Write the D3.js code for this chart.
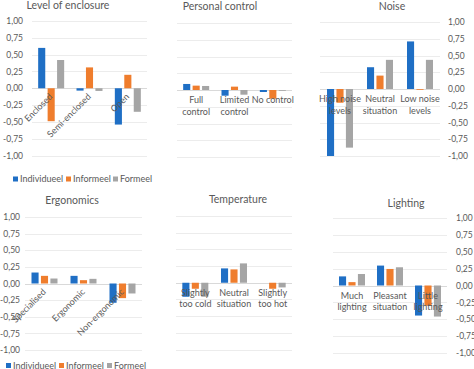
<!DOCTYPE html>
<html>
<head>
<meta charset="utf-8">
<script src="https://cdn.jsdelivr.net/npm/d3@7"></script>
<style>
  body { margin: 0; background: #fff; }
  svg { display: block; font-family: Lato, "Open Sans", sans-serif; }
</style>
</head>
<body>
<div id="chart"></div>
<script>
// series (legend)
const seriesNames = ["Individueel", "Informeel", "Formeel"];
const seriesColors = ["#1f6fc5", "#ef7d2d", "#a5a5a5"];

// y ticks shared by all panels
const yTicks = [1, 0.75, 0.5, 0.25, 0, -0.25, -0.5, -0.75, -1];

// values per category: [Individueel, Informeel, Formeel]
const enclosureCats = ["Enclosed", "Semi-enclosed", "Open"];
const enclosureVals = [[0.60, -0.49, 0.42], [-0.035, 0.31, -0.04], [-0.54, 0.20, -0.35]];

const controlCats = ["Full\ncontrol", "Limited\ncontrol", "No control"];
const controlVals = [[0.09, 0.065, 0.06], [-0.085, 0.05, -0.07], [-0.03, -0.13, -0.005]];

const noiseCats = ["High noise\nlevels", "Neutral\nsituation", "Low noise\nlevels"];
const noiseVals = [[-1.00, -0.205, -0.875], [0.325, 0.20, 0.435], [0.71, -0.01, 0.435]];

const ergoCats = ["Specialised", "Ergonomic", "Non-ergonomic"];
const ergoVals = [[0.165, 0.115, 0.075], [0.115, 0.05, 0.07], [-0.29, -0.22, -0.15]];

const tempCats = ["Slightly\ntoo cold", "Neutral\nsituation", "Slightly\ntoo hot"];
const tempVals = [[-0.21, -0.09, -0.21], [0.215, 0.20, 0.29], [0, -0.09, -0.07]];

const lightCats = ["Much\nlighting", "Pleasant\nsituation", "Little\nlighting"];
const lightVals = [[0.135, 0.05, 0.17], [0.295, 0.245, 0.27], [-0.445, -0.30, -0.46]];

const W = 474, H = 369;
const textColor = "#595959";
const locale = d3.formatLocale({decimal: ",", thousands: ".", grouping: [3], currency: ["", ""], minus: "-"});
const fmt = locale.format(".2f");

const svg = d3.select("#chart").append("svg")
	.attr("width", W)
	.attr("height", H);

const panels = [
	{title: "Level of enclosure", cats: enclosureCats, vals: enclosureVals,
		x0: 32, x1: 147, y0: 21, y1: 155.5, axis: "left", axisX: 23, rotate: true,
		titleX: 68, titleY: 8.5, legend: {y: 179, xs: [13, 66, 113]}},
	{title: "Personal control", cats: controlCats, vals: controlVals,
		x0: 177, x1: 292, y0: 23, y1: 157, axis: null, rotate: false,
		titleX: 220, titleY: 9.5},
	{title: "Noise", cats: noiseCats, vals: noiseVals,
		x0: 320, x1: 440, y0: 22, y1: 156, axis: "right", axisX: 448, rotate: false,
		titleX: 392, titleY: 9.5},
	{title: "Ergonomics", cats: ergoCats, vals: ergoVals,
		x0: 25, x1: 142, y0: 217, y1: 350, axis: "left", axisX: 20, rotate: true,
		titleX: 72, titleY: 203.5, legend: {y: 365.5, xs: [6, 59, 107]}},
	{title: "Temperature", cats: tempCats, vals: tempVals,
		x0: 176, x1: 292, y0: 216, y1: 349.5, axis: null, rotate: false,
		titleX: 238, titleY: 203},
	{title: "Lighting", cats: lightCats, vals: lightVals,
		x0: 333, x1: 447, y0: 218, y1: 353, axis: "right", axisX: 456, rotate: false,
		titleX: 406, titleY: 207}
];

panels.forEach(drawPanel);

function drawPanel(p) {
	const g = svg.append("g");
	const y = d3.scaleLinear().domain([-1, 1]).range([p.y1, p.y0]);
	const x = d3.scaleBand().domain(p.cats).range([p.x0, p.x1]);
	const inner = d3.scaleBand().domain(seriesNames).range([-13, 13]).paddingInner(0.25);

	// gridlines
	g.append("g").selectAll("line")
		.data(yTicks)
		.join("line")
		.attr("x1", p.x0).attr("x2", p.x1)
		.attr("y1", d => Math.round(y(d)) + 0.5)
		.attr("y2", d => Math.round(y(d)) + 0.5)
		.attr("stroke", d => d === 0 ? "#d9d9d9" : "#ececec")
		.attr("stroke-width", 1);

	// bars
	g.append("g").selectAll("g")
		.data(p.cats.map((c, i) => ({cat: c, vals: p.vals[i]})))
		.join("g")
		.attr("transform", d => `translate(${x(d.cat) + x.bandwidth() / 2},0)`)
		.selectAll("rect")
		.data(d => d.vals.map((v, j) => ({v, s: seriesNames[j], c: seriesColors[j]})))
		.join("rect")
		.attr("x", d => inner(d.s))
		.attr("width", inner.bandwidth())
		.attr("y", d => y(Math.max(0, d.v)))
		.attr("height", d => Math.max(Math.abs(y(d.v) - y(0)), d.v === 0 ? 0 : 0.8))
		.attr("fill", d => d.c);

	// y axis labels
	if (p.axis) {
		const axis = (p.axis === "left" ? d3.axisLeft(y) : d3.axisRight(y))
			.tickValues(yTicks)
			.tickFormat(fmt)
			.tickSize(0)
			.tickPadding(0);
		const ag = g.append("g")
			.attr("transform", `translate(${p.axisX},0)`)
			.call(axis);
		ag.select(".domain").remove();
		ag.selectAll("text")
			.attr("fill", textColor)
			.attr("font-size", 8.5)
			.attr("font-family", "Lato, sans-serif");
	}

	// category labels
	const zero = y(0);
	if (p.rotate) {
		g.append("g").selectAll("text")
			.data(p.cats)
			.join("text")
			.attr("transform", d => `translate(${x(d) + x.bandwidth() / 2 + 2},${zero + 9}) rotate(-45)`)
			.attr("text-anchor", "end")
			.attr("font-size", 9)
			.attr("fill", textColor)
			.text(d => d);
	} else {
		const lab = g.append("g").selectAll("text")
			.data(p.cats)
			.join("text")
			.attr("x", d => x(d) + x.bandwidth() / 2)
			.attr("y", zero + 13)
			.attr("text-anchor", "middle")
			.attr("font-size", 9)
			.attr("fill", textColor);
		lab.selectAll("tspan")
			.data(d => d.split("\n"))
			.join("tspan")
			.attr("x", function () { return this.parentNode.getAttribute("x"); })
			.attr("dy", (d, i) => i === 0 ? 0 : 11.5)
			.text(d => d);
	}

	// title
	g.append("text")
		.attr("x", p.titleX)
		.attr("y", p.titleY)
		.attr("text-anchor", "middle")
		.attr("font-size", 10.5)
		.attr("fill", textColor)
		.text(p.title);

	// legend
	if (p.legend) {
		const lg = g.append("g").selectAll("g")
			.data(seriesNames)
			.join("g")
			.attr("transform", (d, i) => `translate(${p.legend.xs[i]},${p.legend.y})`);
		lg.append("rect")
			.attr("x", 0).attr("y", -2.5)
			.attr("width", 5).attr("height", 5)
			.attr("fill", (d, i) => seriesColors[i]);
		lg.append("text")
			.attr("x", 7)
			.attr("y", 3.2)
			.attr("font-size", 9)
			.attr("fill", textColor)
			.text(d => d);
	}
}
</script>
</body>
</html>
